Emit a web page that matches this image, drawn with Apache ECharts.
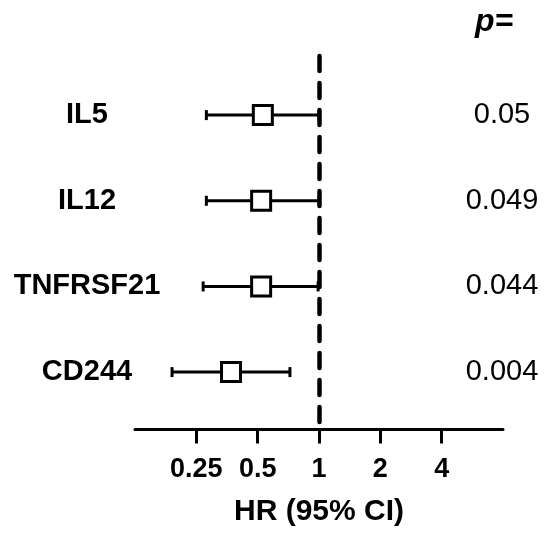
<!DOCTYPE html>
<html>
<head>
<meta charset="utf-8">
<script src="https://cdn.jsdelivr.net/npm/echarts@6/dist/echarts.min.js"></script>
<style>
html,body{margin:0;padding:0;background:#fff;}
#chart{width:550px;height:535px;}
</style>
</head>
<body>
<div id="chart"></div>
<script>
var names = ['IL5', 'IL12', 'TNFRSF21', 'CD244'];
var hr = [0.53, 0.52, 0.52, 0.37];
var lower = [0.28, 0.28, 0.27, 0.19];
var upper = [1.0, 1.0, 0.99, 0.72];
var pValues = ['0.05', '0.049', '0.044', '0.004'];
var xTicks = [0.25, 0.5, 1, 2, 4];
var rows = [1, 2, 3, 4];

var font = 'Liberation Sans, Arial, sans-serif';
var data = names.map(function (n, i) { return [lower[i], upper[i], hr[i], rows[i]]; });

var chart = echarts.init(document.getElementById('chart'));
chart.setOption({
  animation: false,
  backgroundColor: '#fff',
  title: {
    text: 'p=',
    left: 470,
    top: 1,
    textStyle: { fontFamily: font, fontSize: 32, fontWeight: 'bold', fontStyle: 'italic', color: '#000' }
  },
  grid: { left: 135, right: 47, top: 56, bottom: 105.5 },
  xAxis: {
    type: 'log',
    logBase: 2,
    min: 0.125,
    max: 8,
    splitLine: { show: false },
    axisLine: { show: true, lineStyle: { color: '#000', width: 3 } },
    axisTick: { show: true, length: 14, customValues: xTicks, lineStyle: { color: '#000', width: 3 } },
    axisLabel: { customValues: xTicks, margin: 27, fontFamily: font, fontSize: 27, fontWeight: 'bold', color: '#000' },
    name: 'HR (95% CI)',
    nameLocation: 'middle',
    nameGap: 67,
    nameTextStyle: { fontFamily: font, fontSize: 30, fontWeight: 'bold', color: '#000' }
  },
  yAxis: [{
    type: 'value',
    min: 0.31,
    max: 4.67,
    inverse: true,
    splitLine: { show: false },
    axisLine: { show: false },
    axisTick: { show: false },
    axisLabel: {
      customValues: rows,
      align: 'center',
      margin: 48,
      formatter: function (v) { return names[Math.round(v) - 1]; },
      fontFamily: font, fontSize: 29, fontWeight: 'bold', color: '#000'
    }
  }, {
    type: 'value',
    position: 'right',
    min: 0.31,
    max: 4.67,
    inverse: true,
    splitLine: { show: false },
    axisLine: { show: false },
    axisTick: { show: false },
    axisLabel: {
      customValues: rows,
      align: 'center',
      margin: -1,
      formatter: function (v) { return pValues[Math.round(v) - 1]; },
      fontFamily: font, fontSize: 29, color: '#000'
    }
  }],
  series: [{
    type: 'custom',
    data: data,
    encode: { x: [0, 1, 2], y: 3 },
    renderItem: function (params, api) {
      var y = api.value(3);
      var pL = api.coord([api.value(0), y]);
      var pH = api.coord([api.value(1), y]);
      var pM = api.coord([api.value(2), y]);
      var cap = 5;
      var s = 9.5;
      var st = { stroke: '#000', lineWidth: 3 };
      return {
        type: 'group',
        children: [
          { type: 'line', shape: { x1: pL[0], y1: pL[1], x2: pH[0], y2: pH[1] }, style: st },
          { type: 'line', shape: { x1: pL[0], y1: pL[1] - cap, x2: pL[0], y2: pL[1] + cap }, style: st },
          { type: 'line', shape: { x1: pH[0], y1: pH[1] - cap, x2: pH[0], y2: pH[1] + cap }, style: st },
          { type: 'rect', shape: { x: pM[0] - s, y: pM[1] - s, width: 2 * s, height: 2 * s }, style: { fill: '#fff', stroke: '#000', lineWidth: 3 }, z2: 10 }
        ]
      };
    },
    markLine: {
      silent: true,
      symbol: 'none',
      label: { show: false },
      lineStyle: { color: '#000', width: 4.5, type: [15, 12], cap: 'round' },
      data: [{ xAxis: 1 }]
    },
    z: 3
  }]
});
</script>
</body>
</html>
